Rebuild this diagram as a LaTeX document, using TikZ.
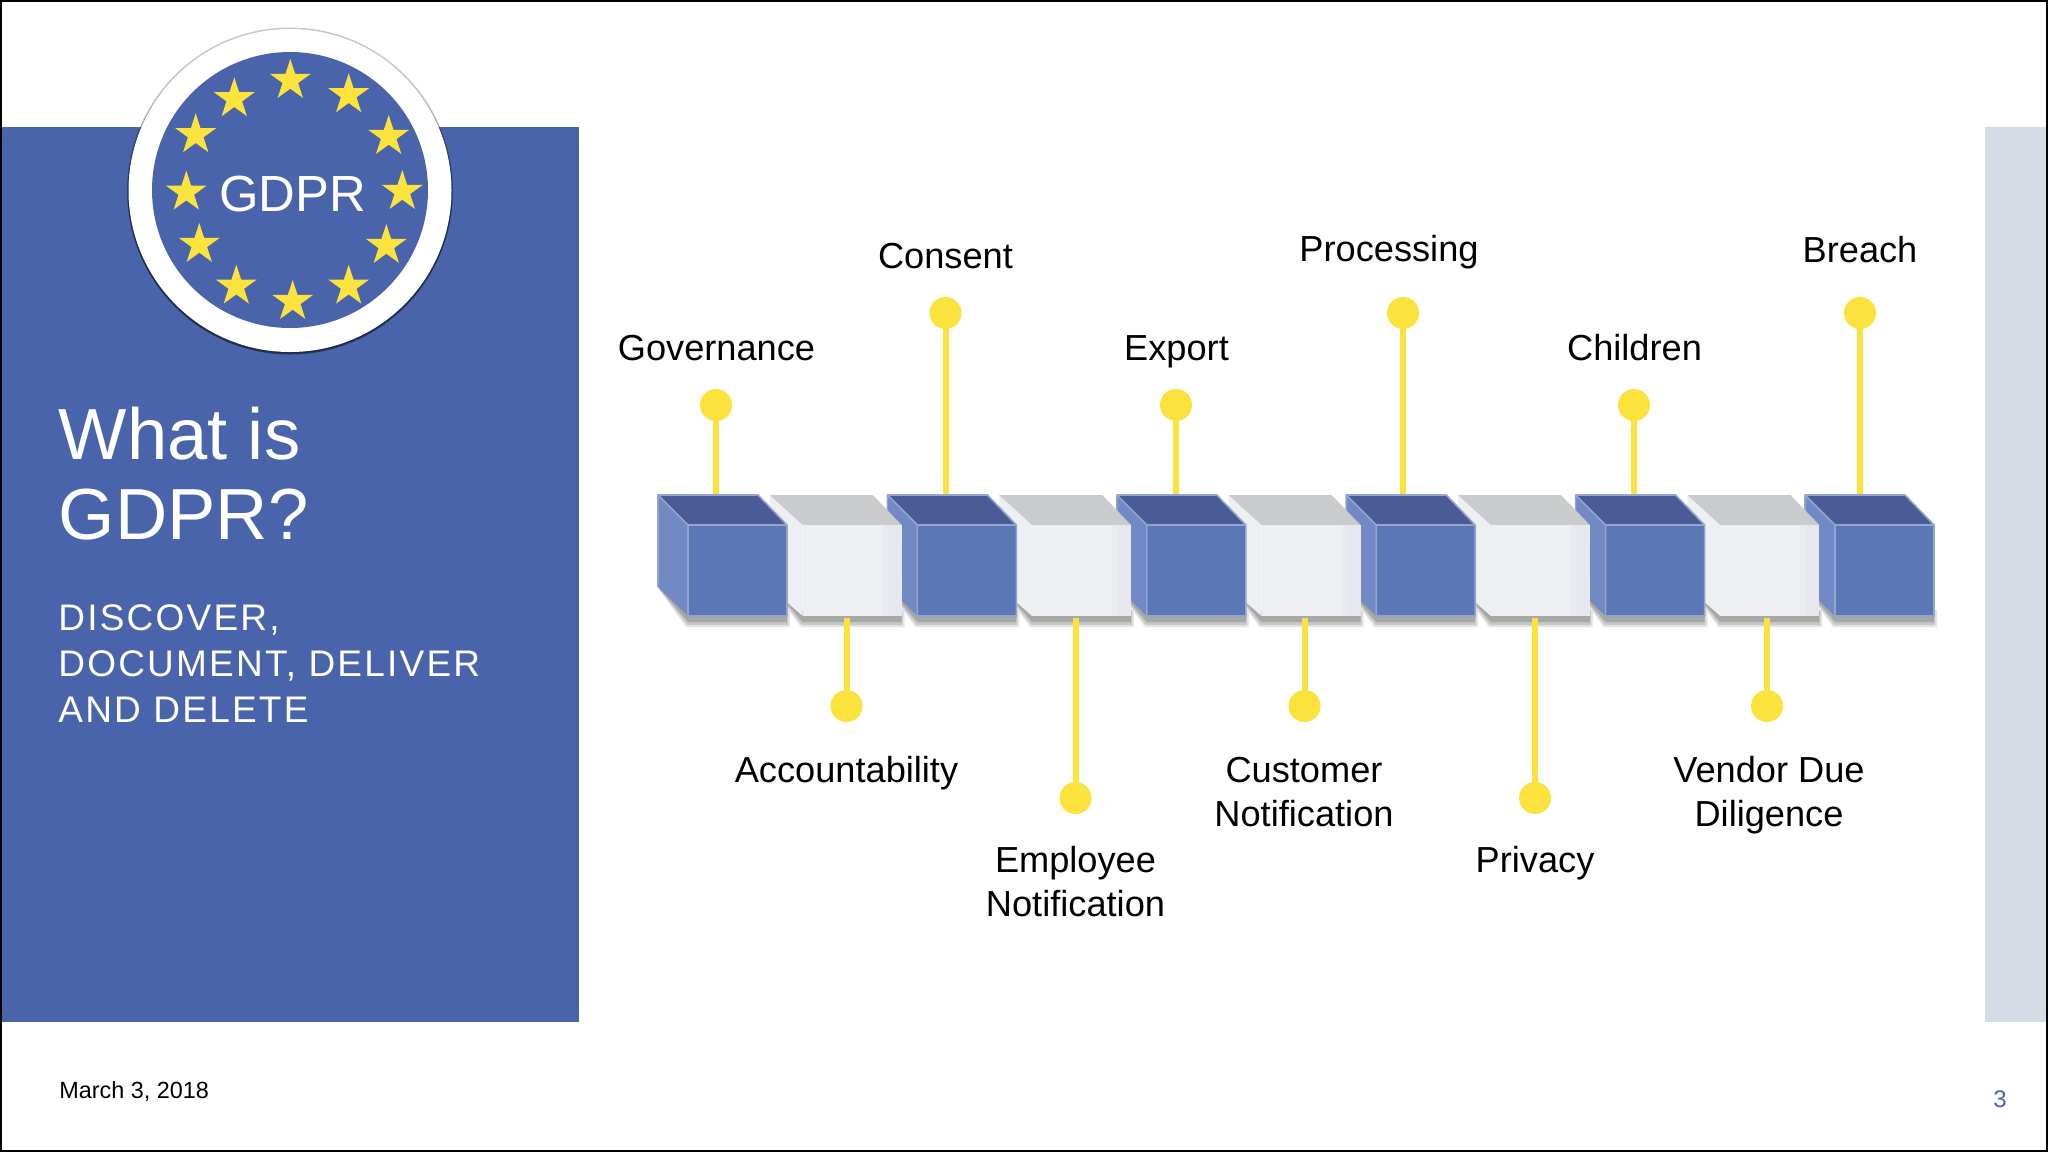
\documentclass[tikz,border=0pt]{standalone}
\usepackage{fontspec}
\setmainfont{Liberation Sans}
\newfontface\spaced{Liberation Sans}[LetterSpace=6]
\usetikzlibrary{shapes.geometric}
\definecolor{panel}{HTML}{4A64AB}
\definecolor{strip}{HTML}{D6DCE5}
\definecolor{pinyel}{HTML}{FCE23C}
\definecolor{bfront}{HTML}{5B77B6}
\definecolor{btop}{HTML}{4A5B95}
\definecolor{bleft}{HTML}{7189C4}
\definecolor{bedge}{HTML}{93A5CC}
\definecolor{wfront}{HTML}{EEEFF2}
\definecolor{wtop}{HTML}{C9CBCD}
\definecolor{wshade}{HTML}{E6E8EE}
\definecolor{cshadow}{HTML}{A5A8A4}
\tikzset{
  lbl/.style={font=\fontsize{18.1}{21.75}\selectfont,align=center,anchor=base,inner sep=0pt,text=black},
  dot/.style={circle,fill=pinyel,draw=none,minimum size=16pt,inner sep=0pt},
  pin/.style={draw=pinyel,line width=3pt},
  euro/.style={star,star points=5,star point ratio=2.618,fill=pinyel,draw=none,minimum size=21.5pt,inner sep=0pt},
  bluecube/.style={draw=bedge,line width=0.8pt,line join=round},
  bigtitle/.style={font=\fontsize{36.2}{44}\selectfont,text=white,anchor=base west,inner sep=0pt},
  subtitle/.style={font=\spaced\fontsize{18.5}{23}\selectfont,text=white,anchor=base west,inner sep=0pt},
}
\newcommand{\cubeshadow}[1]{%
  \fill[black!10] (#1-32,585) -- (#1-2,627) -- (#1+102,627) -- (#1+102,610) -- (#1,610) -- cycle;
  \fill[black!22] (#1-31,586) -- (#1-1,625) -- (#1+100,625) -- (#1+100,610) -- (#1,610) -- cycle;
  \fill[cshadow] (#1-30,587) -- (#1,622) -- (#1+99,622) -- (#1+99,612) -- (#1,612) -- cycle;
}
\newcommand{\bluebox}[1]{%
  \cubeshadow{#1}
  \fill[bleft] (#1-30,495) -- (#1,525) -- (#1,616) -- (#1-30,587) -- cycle;
  \fill[btop] (#1-30,495) -- (#1+70,495) -- (#1+99,525) -- (#1,525) -- cycle;
  \fill[bfront] (#1,525) rectangle (#1+99,616);
  \draw[bluecube] (#1-30,587) -- (#1-30,495) -- (#1+70,495) -- (#1+99,525) -- (#1+99,616) -- (#1,616) -- (#1,525) -- (#1+99,525) (#1,525) -- (#1-30,495);
}
\newcommand{\whitebox}[1]{%
  \cubeshadow{#1}
  \fill[wfront] (#1-33,495) -- (#1,525) -- (#1,616) -- (#1-33,587) -- cycle;
  \fill[wtop] (#1-33,495) -- (#1+70,495) -- (#1+99,525) -- (#1,525) -- cycle;
  \fill[wfront] (#1,525) rectangle (#1+99,616);
  \fill[wshade!55!wfront] (#1+80,525) rectangle (#1+99,616);
  \fill[wshade] (#1+86,525) rectangle (#1+99,616);
}
\begin{document}
\begin{tikzpicture}[x=0.5pt,y=-0.5pt]
\useasboundingbox (0,0) rectangle (2048,1152);
\fill[white] (0,0) rectangle (2048,1152);
\fill[panel] (2,127) rectangle (579,1022);
\fill[strip] (1985,127) rectangle (2046,1022);
\draw[black,line width=1.2pt] (0.8,0.8) rectangle (2047,1151);
% badge
\fill[black,opacity=0.22] (290,190.5) circle (163);
\fill[black,opacity=0.45] (290,192) circle (162.5);
\node[circle,fill=white,draw=none,minimum size=161.5pt,inner sep=0pt] (badge) at (290,190.5) {};
\node[circle,fill=panel,draw=none,minimum size=138pt,inner sep=0pt] (seal) at (290,190) {};
\node[font=\fontsize{25.4}{30}\selectfont,text=white,inner sep=0pt,anchor=base] (gdpr) at (292.5,211) {GDPR};
\foreach \i/\px/\py in {1/290.3/80.5,2/348.7/94.8,3/388.7/136.5,4/402.3/191.5,5/386.3/245.5,6/348.7/286.2,7/292.7/301.5,8/236.3/286.2,9/199.3/244.5,10/186.3/192.2,11/195.7/134.8,12/234.3/98.8}
  \node[euro] (s\i) at (\px,\py) {};
% titles
\node[bigtitle] (title1) at (58.5,459) {What is};
\node[bigtitle] (title2) at (58.5,539.5) {GDPR?};
\node[subtitle] (sub1) at (58,630) {DISCOVER,};
\node[subtitle] (sub2) at (58,676) {DOCUMENT, DELIVER};
\node[subtitle] (sub3) at (58,722) {AND DELETE};
\node[font=\fontsize{11.7}{14}\selectfont,text=black,anchor=base west,inner sep=0pt] (date) at (59,1098) {March 3, 2018};
\node[font=\fontsize{12}{14}\selectfont,text=panel,anchor=base,inner sep=0pt] (page) at (2000,1107) {3};
% pins
\foreach \i/\px/\py/\cy in {1/716/405/494,2/846.5/706/618,3/945.5/313/494,4/1075.5/798/618,5/1176/405/494,6/1304.5/706/618,7/1403/313/494,8/1535/798/618,9/1634/405/494,10/1767/706/618,11/1860/313/494}{
  \coordinate (c\i) at (\px,\cy);
  \node[dot] (d\i) at (\px,\py) {};
}
% cubes, right to left
\bluebox{1835}
\whitebox{1720.3}
\bluebox{1605.6}
\whitebox{1490.9}
\bluebox{1376.2}
\whitebox{1261.5}
\bluebox{1146.8}
\whitebox{1032.1}
\bluebox{917.4}
\whitebox{802.7}
\bluebox{688}
\foreach \i in {1,...,11}
  \draw[pin] (d\i) -- (c\i);
% labels
\node[lbl] (l1) at (716.5,360) {Governance};
\node[lbl] (l2) at (846.5,782.7) {Accountability};
\node[lbl] (l3) at (945.5,268) {Consent};
\node[lbl] (l4) at (1075.5,916.2) {Employee\\Notification};
\node[lbl] (l5) at (1176.5,360) {Export};
\node[lbl] (l6) at (1304,826.2) {Customer\\Notification};
\node[lbl] (l7) at (1389,261.5) {Processing};
\node[lbl] (l8) at (1535,872.7) {Privacy};
\node[lbl] (l9) at (1634.5,360) {Children};
\node[lbl] (l10) at (1769,826.2) {Vendor Due\\Diligence};
\node[lbl] (l11) at (1860,262.5) {Breach};
\end{tikzpicture}
\end{document}
